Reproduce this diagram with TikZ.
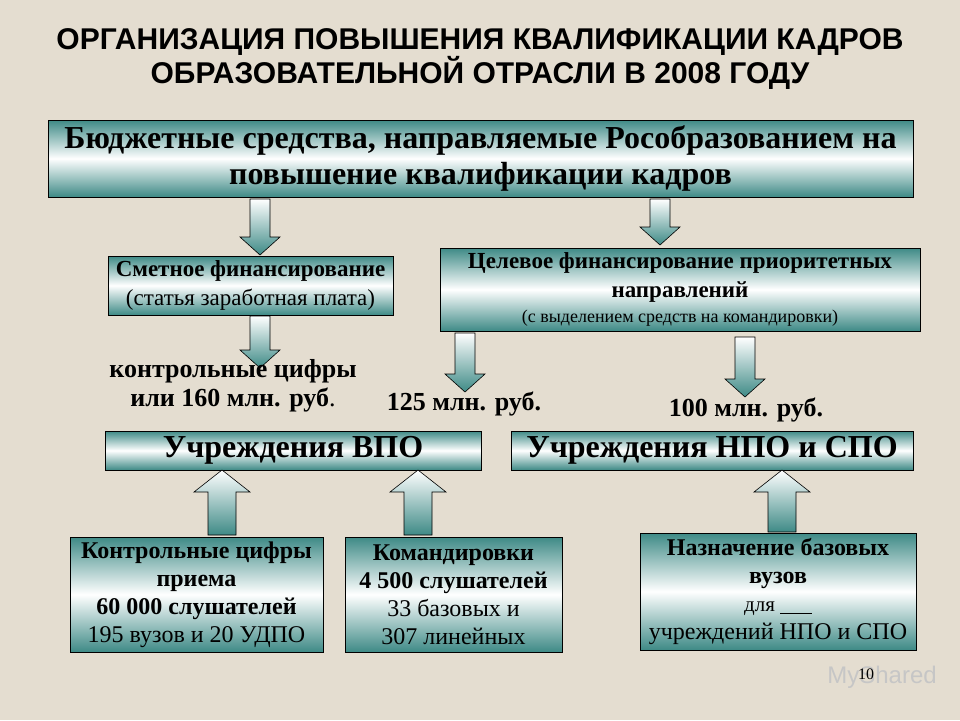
\documentclass[tikz,border=0pt]{standalone}
\usepackage{fontspec}
\setmainfont{Liberation Serif}
\newfontfamily\titlefont{Liberation Sans}
\usetikzlibrary{shadings}
\definecolor{bg}{HTML}{E4DDD0}
\definecolor{teal1}{HTML}{3E8A86}
\tikzset{
 box/.style={draw=black, line width=1pt, top color=teal1, bottom color=teal1, middle color=white, align=center, inner sep=2pt},
 barr/.style={draw=black, line width=0.6pt, top color=white, bottom color=teal1},
 uarr/.style={draw=black, line width=0.6pt, top color=white, bottom color=teal1},
 lbl/.style={font=\bfseries\fontsize{26}{29}\selectfont, align=center}
}
\newcommand{\darrow}[3]{\path[barr] (#1-10,#2) -- (#1+10,#2) -- (#1+10,#3-18) -- (#1+20,#3-18) -- (#1,#3) -- (#1-20,#3-18) -- (#1-10,#3-18) -- cycle;}
\newcommand{\uparrowx}[3]{\path[uarr] (#1-14,#3) -- (#1+14,#3) -- (#1+14,#2+22) -- (#1+28,#2+22) -- (#1,#2) -- (#1-28,#2+22) -- (#1-14,#2+22) -- cycle;}
\begin{document}
\begin{tikzpicture}[x=1pt,y=-1pt]
\fill[bg] (0,0) rectangle (960,720);
\useasboundingbox (0,0) rectangle (960,720);
\node[font=\titlefont\bfseries\fontsize{30}{30}\selectfont, align=center] (title) at (480,59) {ОРГАНИЗАЦИЯ ПОВЫШЕНИЯ КВАЛИФИКАЦИИ КАДРОВ\\ОБРАЗОВАТЕЛЬНОЙ ОТРАСЛИ В 2008 ГОДУ};

\path[box] (48,120) rectangle (913,197);
\node[font=\bfseries\fontsize{32}{36}\selectfont, align=center] (top) at (480.5,158.5) {Бюджетные средства, направляемые Рособразованием на\\повышение квалификации кадров};

\path[box] (108,256) rectangle (393,315);
\node[font=\fontsize{23}{29}\selectfont, align=center] (smet) at (250.5,285.5) {\textbf{Сметное финансирование}\\(статья заработная плата)};

\path[box] (440,248) rectangle (920,331);
\node[align=center, font=\fontsize{23}{29}\selectfont] (cel) at (680,289.5) {\textbf{Целевое финансирование приоритетных}\\\textbf{направлений}\\[-4pt]{\fontsize{18}{20}\selectfont (с выделением средств на командировки)}};

\path[box] (105,431) rectangle (481,470);
\node[font=\bfseries\fontsize{32}{36}\selectfont] (vpo) at (293,450.5) {Учреждения ВПО};
\path[box] (511,431) rectangle (913,470);
\node[font=\bfseries\fontsize{32}{36}\selectfont] (npo) at (712,450.5) {Учреждения НПО и СПО};

\path[box] (70,537) rectangle (323,652);
\node[font=\fontsize{24}{28}\selectfont, align=center] (b1) at (196.5,594.5) {\textbf{Контрольные цифры}\\\textbf{приема}\\\textbf{60 000 слушателей}\\195 вузов и 20 УДПО};
\path[box] (345,537) rectangle (562,652);
\node[font=\fontsize{24}{28}\selectfont, align=center] (b2) at (453.5,594.5) {\textbf{Командировки}\\\textbf{4 500 слушателей}\\33 базовых и\\307 линейных};
\path[box] (640,533) rectangle (916,650);
\node[font=\fontsize{24}{28}\selectfont, align=center] (b3) at (778,591.5) {\textbf{Назначение базовых}\\\textbf{вузов}\\{\fontsize{21}{24}\selectfont для \underline{\ \ \ \ \ \ }}\\учреждений НПО и СПО};

\darrow{260}{199}{255}
\darrow{660}{199}{245}
\darrow{260}{316}{368}
\darrow{465}{333}{392}
\darrow{745}{337}{397}
\uparrowx{222}{470}{535}
\uparrowx{418}{470}{535}
\uparrowx{782}{470}{532}

\node[lbl] (l1) at (233,386) {контрольные цифры\\или 160 млн. руб{\mdseries.}};
\node[lbl] (l2) at (464,404) {125 млн. руб.};
\node[lbl] (l3) at (746,410) {100 млн. руб.};
\node[font=\titlefont\fontsize{24}{26}\selectfont, text=gray!45] (wm) at (882,677) {MyShared};
\node[font=\fontsize{16}{18}\selectfont] (pg) at (866,674) {10};
\end{tikzpicture}
\end{document}
